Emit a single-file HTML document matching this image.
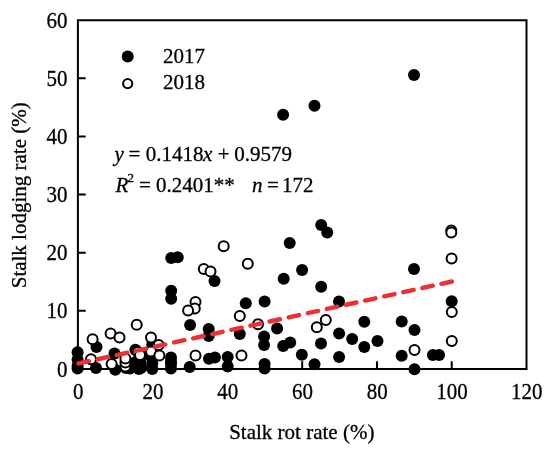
<!DOCTYPE html>
<html><head><meta charset="utf-8"><style>
html,body{margin:0;padding:0;background:#fff;}
svg{display:block;}
text{font-family:"Liberation Serif","Times New Roman",serif;font-size:21px;fill:#000;stroke:#000;stroke-width:0.3px;}
</style></head><body>
<svg width="550" height="449" viewBox="0 0 550 449">
<rect width="550" height="449" fill="#fff"/>
<path d="M77.9 369.0 H526.5 V20.2 H77.9 Z" fill="none" stroke="#000" stroke-width="2"/>
<path d="M152.67 369.0 V361.2 M227.43 369.0 V361.2 M302.20 369.0 V361.2 M376.97 369.0 V361.2 M451.73 369.0 V361.2 M77.9 310.87 H85.7 M77.9 252.73 H85.7 M77.9 194.60 H85.7 M77.9 136.47 H85.7 M77.9 78.33 H85.7" stroke="#000" stroke-width="2" fill="none"/>
<circle cx="414.0" cy="75.1" r="6.0"/>
<circle cx="314.5" cy="105.7" r="6.0"/>
<circle cx="283.1" cy="114.7" r="6.0"/>
<circle cx="321.2" cy="225" r="6.0"/>
<circle cx="327.2" cy="232.4" r="6.0"/>
<circle cx="289.7" cy="243" r="6.0"/>
<circle cx="171.2" cy="258.1" r="6.0"/>
<circle cx="177.7" cy="257.2" r="6.0"/>
<circle cx="414" cy="269" r="6.0"/>
<circle cx="302.1" cy="270.1" r="6.0"/>
<circle cx="283.7" cy="278.7" r="6.0"/>
<circle cx="214.5" cy="281.1" r="6.0"/>
<circle cx="321.2" cy="286.7" r="6.0"/>
<circle cx="171.2" cy="290.8" r="6.0"/>
<circle cx="171.2" cy="298.8" r="6.0"/>
<circle cx="451.7" cy="301.2" r="6.0"/>
<circle cx="339" cy="301.5" r="6.0"/>
<circle cx="245.8" cy="303.2" r="6.0"/>
<circle cx="264.6" cy="301.5" r="6.0"/>
<circle cx="401.7" cy="321.5" r="6.0"/>
<circle cx="364.3" cy="321.7" r="6.0"/>
<circle cx="190.1" cy="325" r="6.0"/>
<circle cx="208.7" cy="329" r="6.0"/>
<circle cx="208.7" cy="336" r="6.0"/>
<circle cx="277.1" cy="328.6" r="6.0"/>
<circle cx="414.5" cy="330.1" r="6.0"/>
<circle cx="339.1" cy="333.4" r="6.0"/>
<circle cx="239.8" cy="333.9" r="6.0"/>
<circle cx="264.1" cy="336.5" r="6.0"/>
<circle cx="352.2" cy="339.1" r="6.0"/>
<circle cx="377.5" cy="341" r="6.0"/>
<circle cx="290.2" cy="342.6" r="6.0"/>
<circle cx="321" cy="343.4" r="6.0"/>
<circle cx="264.1" cy="345.1" r="6.0"/>
<circle cx="283.2" cy="346" r="6.0"/>
<circle cx="96.5" cy="347" r="6.0"/>
<circle cx="364.3" cy="346.9" r="6.0"/>
<circle cx="135.4" cy="349.8" r="6.0"/>
<circle cx="152.3" cy="344.5" r="6.0"/>
<circle cx="114.5" cy="353.6" r="6.0"/>
<circle cx="77.6" cy="352.3" r="6.0"/>
<circle cx="77.6" cy="359.5" r="6.0"/>
<circle cx="77.6" cy="366" r="6.0"/>
<circle cx="77.6" cy="368.5" r="6.0"/>
<circle cx="148.3" cy="354.5" r="6.0"/>
<circle cx="432.9" cy="354.9" r="6.0"/>
<circle cx="439.1" cy="354.9" r="6.0"/>
<circle cx="301.8" cy="354.7" r="6.0"/>
<circle cx="401.7" cy="355.7" r="6.0"/>
<circle cx="171" cy="357.5" r="6.0"/>
<circle cx="209" cy="358.7" r="6.0"/>
<circle cx="214.9" cy="357.4" r="6.0"/>
<circle cx="227.7" cy="357" r="6.0"/>
<circle cx="152.3" cy="358.7" r="6.0"/>
<circle cx="339.1" cy="357" r="6.0"/>
<circle cx="264.6" cy="364" r="6.0"/>
<circle cx="314.5" cy="364.3" r="6.0"/>
<circle cx="227.7" cy="366.5" r="6.0"/>
<circle cx="189.7" cy="367" r="6.0"/>
<circle cx="171" cy="368.5" r="6.0"/>
<circle cx="141.3" cy="367.8" r="6.0"/>
<circle cx="152.3" cy="369" r="6.0"/>
<circle cx="96" cy="368" r="6.0"/>
<circle cx="115.3" cy="369.8" r="6.0"/>
<circle cx="264.6" cy="368.6" r="6.0"/>
<circle cx="414.5" cy="369.2" r="6.0"/>
<circle cx="136" cy="362" r="6.0"/>
<circle cx="140" cy="368" r="6.0"/>
<circle cx="134" cy="363" r="6.0"/>
<circle cx="171" cy="361.5" r="6.0"/>
<circle cx="171" cy="364" r="6.0"/>
<circle cx="152.3" cy="363.5" r="6.0"/>
<circle cx="135" cy="366.5" r="6.0"/>
<circle cx="130" cy="368.5" r="6.0"/>
<circle cx="139" cy="369" r="6.0"/>
<circle cx="140.5" cy="363" r="6.0"/>
<circle cx="126" cy="368" r="6.0"/>
<circle cx="451.3" cy="230.5" r="5.0" fill="#fff" stroke="#000" stroke-width="2.0"/>
<circle cx="451.3" cy="232.5" r="5.0" fill="#fff" stroke="#000" stroke-width="2.0"/>
<circle cx="223.7" cy="246.2" r="5.0" fill="#fff" stroke="#000" stroke-width="2.0"/>
<circle cx="247.8" cy="263.8" r="5.0" fill="#fff" stroke="#000" stroke-width="2.0"/>
<circle cx="451.6" cy="258.5" r="5.0" fill="#fff" stroke="#000" stroke-width="2.0"/>
<circle cx="203.8" cy="268.9" r="5.0" fill="#fff" stroke="#000" stroke-width="2.0"/>
<circle cx="210.5" cy="271.5" r="5.0" fill="#fff" stroke="#000" stroke-width="2.0"/>
<circle cx="195.5" cy="301.9" r="5.0" fill="#fff" stroke="#000" stroke-width="2.0"/>
<circle cx="194.8" cy="308.6" r="5.0" fill="#fff" stroke="#000" stroke-width="2.0"/>
<circle cx="188.1" cy="310.5" r="5.0" fill="#fff" stroke="#000" stroke-width="2.0"/>
<circle cx="451.8" cy="312" r="5.0" fill="#fff" stroke="#000" stroke-width="2.0"/>
<circle cx="239.8" cy="316" r="5.0" fill="#fff" stroke="#000" stroke-width="2.0"/>
<circle cx="325.8" cy="320" r="5.0" fill="#fff" stroke="#000" stroke-width="2.0"/>
<circle cx="316.8" cy="327.3" r="5.0" fill="#fff" stroke="#000" stroke-width="2.0"/>
<circle cx="258" cy="324.3" r="5.0" fill="#fff" stroke="#000" stroke-width="2.0"/>
<circle cx="136.7" cy="324.8" r="5.0" fill="#fff" stroke="#000" stroke-width="2.0"/>
<circle cx="110.6" cy="333.4" r="5.0" fill="#fff" stroke="#000" stroke-width="2.0"/>
<circle cx="119.5" cy="337.6" r="5.0" fill="#fff" stroke="#000" stroke-width="2.0"/>
<circle cx="92.6" cy="339.3" r="5.0" fill="#fff" stroke="#000" stroke-width="2.0"/>
<circle cx="151" cy="337.4" r="5.0" fill="#fff" stroke="#000" stroke-width="2.0"/>
<circle cx="158.7" cy="345" r="5.0" fill="#fff" stroke="#000" stroke-width="2.0"/>
<circle cx="151" cy="351.6" r="5.0" fill="#fff" stroke="#000" stroke-width="2.0"/>
<circle cx="159.4" cy="355.5" r="5.0" fill="#fff" stroke="#000" stroke-width="2.0"/>
<circle cx="137.7" cy="352" r="5.0" fill="#fff" stroke="#000" stroke-width="2.0"/>
<circle cx="451.8" cy="341.1" r="5.0" fill="#fff" stroke="#000" stroke-width="2.0"/>
<circle cx="414.5" cy="350.1" r="5.0" fill="#fff" stroke="#000" stroke-width="2.0"/>
<circle cx="91" cy="359.2" r="5.0" fill="#fff" stroke="#000" stroke-width="2.0"/>
<circle cx="125.4" cy="366.5" r="5.0" fill="#fff" stroke="#000" stroke-width="2.0"/>
<circle cx="125.4" cy="362.5" r="5.0" fill="#fff" stroke="#000" stroke-width="2.0"/>
<circle cx="125.4" cy="358.6" r="5.0" fill="#fff" stroke="#000" stroke-width="2.0"/>
<circle cx="111.6" cy="363.9" r="5.0" fill="#fff" stroke="#000" stroke-width="2.0"/>
<circle cx="195.5" cy="355.5" r="5.0" fill="#fff" stroke="#000" stroke-width="2.0"/>
<circle cx="241.5" cy="355.6" r="5.0" fill="#fff" stroke="#000" stroke-width="2.0"/>
<circle cx="140" cy="354.9" r="5.0" fill="#fff" stroke="#000" stroke-width="2.0"/>
<path d="M78.55 363.43 L88.95 361.14 M97.65 359.24 L108.05 356.95 M116.75 355.04 L127.15 352.76 M135.85 350.85 L146.25 348.57 M154.95 346.66 L165.35 344.38 M174.05 342.47 L184.45 340.19 M193.15 338.28 L203.55 336.00 M212.25 334.09 L222.65 331.81 M231.35 329.90 L241.75 327.62 M250.45 325.71 L260.85 323.43 M269.55 321.52 L279.95 319.24 M288.65 317.33 L299.05 315.05 M307.75 313.14 L318.15 310.86 M326.85 308.95 L337.25 306.67 M345.95 304.76 L356.35 302.48 M365.05 300.57 L375.45 298.29 M384.15 296.38 L394.55 294.10 M403.25 292.19 L413.65 289.90 M422.35 288.00 L432.75 285.71 M441.45 283.81 L451.85 281.52" stroke="#ee3034" stroke-width="4.4" stroke-linecap="round" fill="none"/>
<text transform="translate(78.20 399.2) scale(0.933 1)" text-anchor="middle" style="font-size:22.5px">0</text>
<text transform="translate(152.97 399.2) scale(0.933 1)" text-anchor="middle" style="font-size:22.5px">20</text>
<text transform="translate(227.73 399.2) scale(0.933 1)" text-anchor="middle" style="font-size:22.5px">40</text>
<text transform="translate(302.50 399.2) scale(0.933 1)" text-anchor="middle" style="font-size:22.5px">60</text>
<text transform="translate(377.27 399.2) scale(0.933 1)" text-anchor="middle" style="font-size:22.5px">80</text>
<text transform="translate(452.03 399.2) scale(0.933 1)" text-anchor="middle" style="font-size:22.5px">100</text>
<text transform="translate(526.80 399.2) scale(0.933 1)" text-anchor="middle" style="font-size:22.5px">120</text>
<text transform="translate(67.5 376.50) scale(0.933 1)" text-anchor="end" style="font-size:22.5px">0</text>
<text transform="translate(67.5 318.37) scale(0.933 1)" text-anchor="end" style="font-size:22.5px">10</text>
<text transform="translate(67.5 260.23) scale(0.933 1)" text-anchor="end" style="font-size:22.5px">20</text>
<text transform="translate(67.5 202.10) scale(0.933 1)" text-anchor="end" style="font-size:22.5px">30</text>
<text transform="translate(67.5 143.97) scale(0.933 1)" text-anchor="end" style="font-size:22.5px">40</text>
<text transform="translate(67.5 85.83) scale(0.933 1)" text-anchor="end" style="font-size:22.5px">50</text>
<text transform="translate(67.5 27.70) scale(0.933 1)" text-anchor="end" style="font-size:22.5px">60</text>
<circle cx="127.7" cy="56.5" r="6.0"/>
<circle cx="127.7" cy="83.6" r="4.6" fill="#fff" stroke="#000" stroke-width="2"/>
<text x="163.1" y="63">2017</text>
<text x="163.1" y="89">2018</text>
<text y="161"><tspan x="114.5" font-style="italic">y</tspan><tspan x="128.4">=</tspan><tspan x="145.8">0.1418</tspan><tspan x="203" font-style="italic">x</tspan><tspan x="217.8">+</tspan><tspan x="234.2">0.9579</tspan></text>
<text y="192"><tspan x="115.5" font-style="italic">R</tspan><tspan x="139">=</tspan><tspan x="156">0.2401**</tspan><tspan x="252" font-style="italic">n</tspan><tspan x="267">=</tspan><tspan x="282">172</tspan></text>
<text x="127.4" y="181.6" style="font-size:13px">2</text>
<text x="229.2" y="438.5">Stalk rot rate (%)</text>
<text transform="translate(25.7 288.3) rotate(-90)">Stalk lodging rate (%)</text>
</svg>
</body></html>
